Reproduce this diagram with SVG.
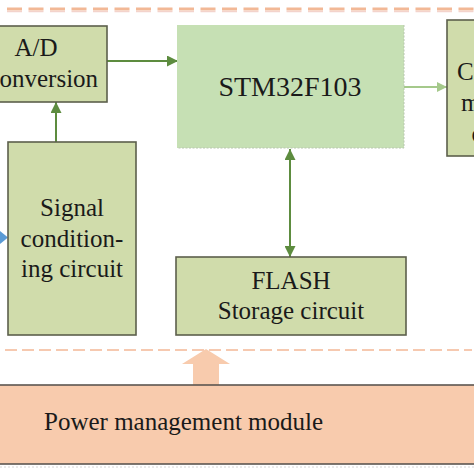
<svg xmlns="http://www.w3.org/2000/svg" width="474" height="474" viewBox="0 0 474 474">
<style>
.box{fill:#d0dcab;stroke:#5c5f4c;stroke-width:1.6}
.t{font-family:"Liberation Serif","Times New Roman",serif;font-size:25px;fill:#1a1a1a}
.c{text-anchor:middle}
.ln{stroke:#5d8c3f;stroke-width:2;fill:none}
</style>
<defs>
<marker id="ahs" viewBox="0 0 10 10" refX="10" refY="5" markerWidth="13" markerHeight="11" orient="auto-start-reverse" markerUnits="userSpaceOnUse">
<path d="M0,0 L10,5 L0,10 z" fill="#5d8c3f"/>
</marker>
<marker id="ahl" viewBox="0 0 10 10" refX="10" refY="5" markerWidth="10" markerHeight="12" orient="auto" markerUnits="userSpaceOnUse">
<path d="M0,0 L10,5 L0,10 z" fill="#a5c98b"/>
</marker>
</defs>
<rect width="474" height="474" fill="#ffffff"/>
<line x1="7" y1="9" x2="474" y2="9" stroke="#f2b896" stroke-width="3" stroke-dasharray="15 6.5"/>
<line x1="7" y1="11.5" x2="474" y2="11.5" stroke="#f3d3cc" stroke-width="1.5" stroke-dasharray="15 6.5"/>
<line x1="5" y1="350" x2="472" y2="350" stroke="#f6c9b0" stroke-width="2" stroke-dasharray="12 5"/>
<line x1="0" y1="467" x2="474" y2="467" stroke="#d6d6d6" stroke-width="1" stroke-dasharray="2 2"/>
<g id="connectors">
<line class="ln" x1="107" y1="61" x2="178" y2="61" marker-end="url(#ahs)"/>
<line x1="404" y1="87" x2="447" y2="87" stroke="#a5c98b" stroke-width="2" marker-end="url(#ahl)"/>
<line class="ln" x1="56" y1="142" x2="56" y2="102" marker-end="url(#ahs)"/>
<line class="ln" x1="290" y1="149" x2="290" y2="257" marker-start="url(#ahs)" marker-end="url(#ahs)"/>
<path d="M0,231 L8,237.5 L0,244 z" fill="#5b9bd5"/>
<polygon points="193,385 193,364 182,364 206,349 230,364 219,364 219,385" fill="#f8cbad"/>
</g>
<g id="ad">
<rect class="box" x="-10" y="26" width="117" height="76"/>
<text class="t c" x="36" y="56">A/D</text>
<text class="t" x="-0.5" y="87">onversion</text>
</g>
<g id="stm">
<rect x="177" y="25" width="227" height="123" fill="#c6e0b4"/>
<path d="M404,25 V148 H177" fill="none" stroke="#b9c7b0" stroke-width="1" stroke-dasharray="2 1.5"/>
<text class="t c" x="290" y="96" style="font-size:28px">STM32F103</text>
</g>
<g id="comm">
<rect class="box" x="447" y="20" width="40" height="136"/>
<text class="t" x="457" y="80">C</text>
<text class="t" x="461" y="111">m</text>
<text class="t" x="471.5" y="142">o</text>
</g>
<g id="signal">
<rect class="box" x="8" y="142" width="128" height="193"/>
<text class="t c" x="72" y="216">Signal</text>
<text class="t c" x="72" y="246.5">condition-</text>
<text class="t c" x="72" y="277">ing circuit</text>
</g>
<g id="flash">
<rect class="box" x="176" y="257" width="230" height="78"/>
<text class="t c" x="291" y="289">FLASH</text>
<text class="t c" x="291" y="319">Storage circuit</text>
</g>
<g id="power">
<rect x="-2" y="385" width="478" height="79" fill="#f8cbad" stroke="#5c5650" stroke-width="1.6"/>
<text class="t" x="44" y="430">Power management module</text>
</g>
</svg>
